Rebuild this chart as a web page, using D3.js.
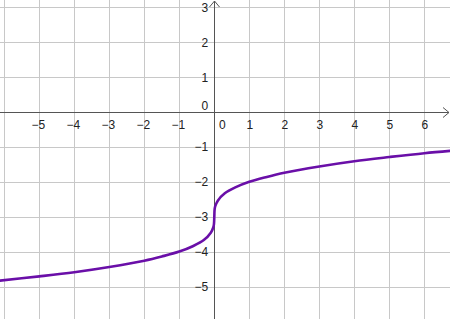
<!DOCTYPE html>
<html><head><meta charset="utf-8">
<script src="https://cdn.jsdelivr.net/npm/d3@7"></script>
<style>html,body{margin:0;padding:0;background:#fff;overflow:hidden}svg{display:block}</style>
</head><body>
<script>
const W = 450, H = 319;
const xTicks = [-6,-5,-4,-3,-2,-1,0,1,2,3,4,5,6];
const yTicks = [3,2,1,0,-1,-2,-3,-4,-5];
const xLabels = [-5,-4,-3,-2,-1,0,1,2,3,4,5,6];
const yLabels = [3,2,1,0,-1,-2,-3,-4,-5];
// points
const curveX = [-6.2,-5,-4,-3,-2,-1.5,-1,-0.6,-0.3,-0.1,-0.03,-0.01,0,0.01,0.03,0.1,0.3,0.6,1,1.5,2,3,4,5,6,6.8];
const curveY = [-4.84,-4.71,-4.59,-4.44,-4.26,-4.14,-4.0,-3.84,-3.67,-3.46,-3.31,-3.215,-3.0,-2.785,-2.69,-2.54,-2.33,-2.16,-2.0,-1.86,-1.74,-1.56,-1.41,-1.29,-1.18,-1.11];

const x = d3.scaleLinear().domain([-214.3/35, (W-214.3)/35]).range([0, W]);
const y = d3.scaleLinear().domain([112/34.9, -(H-112)/34.9]).range([0, H]);
const px = v => Math.round(x(v)) + 0.5;
const py = v => Math.round(y(v)) + 0.5;

const svg = d3.select("body").append("svg").attr("width", W).attr("height", H);

// grid
const grid = svg.append("g").attr("stroke", "#c8c8c8").attr("stroke-width", 1);
grid.selectAll("line.v").data(xTicks.filter(d=>d!==0)).join("line")
  .attr("x1", d=>px(d)).attr("x2", d=>px(d)).attr("y1", 0).attr("y2", H);
grid.selectAll("line.h").data(yTicks.filter(d=>d!==0).concat([-6])).join("line")
  .attr("y1", d=>py(d)).attr("y2", d=>py(d)).attr("x1", 0).attr("x2", W);

// axes
const ax = svg.append("g").attr("stroke", "#555").attr("stroke-width", 1).attr("fill", "none");
ax.append("line").attr("x1", 0).attr("x2", W-1).attr("y1", py(0)).attr("y2", py(0));
ax.append("line").attr("x1", px(0)).attr("x2", px(0)).attr("y1", 1).attr("y2", H);
// arrowheads
ax.append("path").attr("d", `M${W-7},${py(0)-5}L${W-1},${py(0)}L${W-7},${py(0)+5}`);
ax.append("path").attr("d", `M${px(0)-5},${7}L${px(0)},${1}L${px(0)+5},${7}`);

// labels
const fmt = d => d < 0 ? "\u2212" + Math.abs(d) : String(d);
const lab = svg.append("g").attr("font-family", "Liberation Sans, Arial, sans-serif").attr("font-size", 12).attr("fill", "#222");
lab.selectAll("text.x").data(xLabels).join("text")
  .attr("x", d => d===0 ? x(0)+8 : x(d) + (d<0 ? -1 : 0.5))
  .attr("y", y(0)+17)
  .attr("text-anchor", "middle")
  .text(fmt);
lab.selectAll("text.y").data(yLabels).join("text")
  .attr("x", x(0)-6)
  .attr("y", d => d===0 ? y(0)-2 : y(d)+4.5)
  .attr("text-anchor", "end")
  .text(fmt);

// curve
const pts = curveX.map((v,i)=>[v, curveY[i]]);
svg.append("path").datum(pts)
  .attr("fill", "none").attr("stroke", "#6a0fa8").attr("stroke-width", 2.6)
  .attr("stroke-linecap", "round")
  .attr("d", d3.line().x(d=>x(d[0])).y(d=>y(d[1])).curve(d3.curveCatmullRom.alpha(0.5)));
</script>
</body></html>
